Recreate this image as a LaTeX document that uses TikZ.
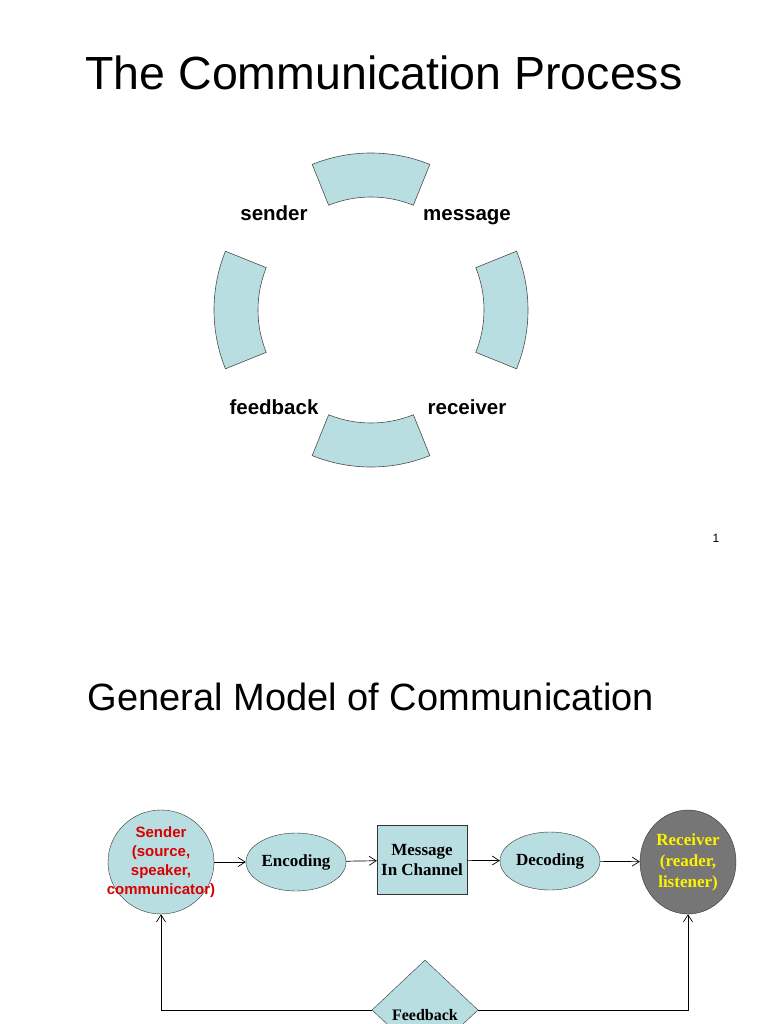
\documentclass[tikz,border=0pt]{standalone}
\usepackage{fontspec}
\setmainfont{Liberation Sans}
\newfontfamily\serifb{Liberation Serif}
\usetikzlibrary{shapes.geometric,arrows.meta}
\definecolor{lb}{HTML}{B9DEE2}
\definecolor{dg}{HTML}{767676}
\begin{document}
\begin{tikzpicture}[x=1pt,y=-1pt,
  seg/.style={draw=black!70,fill=lb,line width=0.6pt},
  lbl/.style={font=\fontsize{20.5}{24}\selectfont\bfseries,anchor=base},
  bx/.style={draw=black!80,fill=lb,font=\serifb\fontsize{17}{20}\selectfont\bfseries,align=center,inner sep=0pt},
  arr/.style={-{Straight Barb[length=7pt,width=9pt]},line width=0.7pt}]
\useasboundingbox (0,0) rectangle (768,1024);
\node (t1) at (384,73) {\fontsize{46.5}{50}\selectfont The Communication Process};
\begin{scope}[shift={(371,310)},y=1pt]
\foreach \a in {90,0,-90,180}{
  \draw[seg] (\a-22:157) arc[start angle=\a-22,end angle=\a+22,radius=157]
     -- (\a+22:113) arc[start angle=\a+22,end angle=\a-22,radius=113] -- cycle;}
\end{scope}
\node[lbl] (s) at (274,221) {sender};
\node[lbl] (m) at (467,221) {message};
\node[lbl] (f) at (274,414) {feedback};
\node[lbl] (r) at (467,414) {receiver};
\node (pg) at (716,538) {\fontsize{12}{14}\selectfont 1};
\node (t2) at (371,697) {\fontsize{38}{42}\selectfont General Model of Communication};
\node[bx,ellipse,minimum width=106pt,minimum height=104pt] (snd) at (161,862) {};
\node[align=center,text=red!85!black,font=\fontsize{15}{19}\selectfont\bfseries] (sndt) at (161,862) {Sender\\(source,\\speaker,\\communicator)};
\node[bx,ellipse,minimum width=100pt,minimum height=58pt] (enc) at (296,862) {Encoding};
\node[bx,rectangle,minimum width=90pt,minimum height=69pt] (msg) at (422,860) {Message\\In Channel};
\node[bx,ellipse,minimum width=100pt,minimum height=58pt] (dec) at (550,861) {Decoding};
\node[bx,ellipse,fill=dg,minimum width=96pt,minimum height=104pt] (rcv) at (688,862) {};
\node[align=center,text=yellow,font=\serifb\fontsize{17}{21}\selectfont\bfseries] (rcvt) at (688,862) {Receiver\\(reader,\\listener)};
\node[bx,diamond,minimum width=106pt,minimum height=100pt,aspect=1] (fb) at (425,1010) {};
\node[font=\serifb\fontsize{16}{18}\selectfont\bfseries] (fbt) at (425,1015) {Feedback};
\draw[arr] (snd) -- (enc);
\draw[arr] (enc) -- (msg);
\draw[arr] (msg) -- (dec);
\draw[arr] (dec) -- (rcv);
\draw[arr] (fb.west) -| (snd.south);
\draw[arr] (fb.east) -| (rcv.south);
\end{tikzpicture}
\end{document}
